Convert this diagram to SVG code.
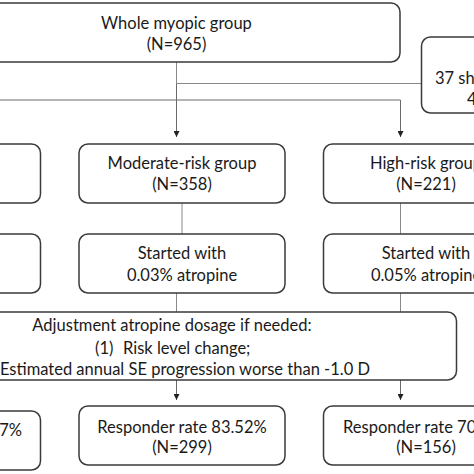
<svg xmlns="http://www.w3.org/2000/svg" width="474" height="474" viewBox="0 0 474 474">
<defs>
<marker id="arr" viewBox="0 0 10 10" refX="10" refY="5" markerWidth="6" markerHeight="6" orient="auto" markerUnits="userSpaceOnUse">
<path d="M0,0 L10,5 L0,10 z" fill="#222"/>
</marker>
<style>
.box{fill:#fff;stroke:#3a3a3a;stroke-width:1.5}
.t{font-family:Lato,"Liberation Sans",sans-serif;font-size:16.5px;fill:#1a1a1a;text-anchor:middle}
.c{fill:none;stroke:#8a8a8a;stroke-width:1}
.ca{fill:none;stroke:#6a6a6a;stroke-width:1;marker-end:url(#arr)}
</style>
</defs>
<rect width="474" height="474" fill="#fff"/>
<g id="connectors">
<path class="c" d="M176.5,62 V83.5 H422"/>
<path class="ca" d="M176.5,83.5 V137"/>
<path class="ca" d="M0,100 H400.5 V137"/>
<path class="c" d="M182,203 V234"/>
<path class="c" d="M400.5,203 V234"/>
<path class="c" d="M176.5,293 V312"/>
<path class="c" d="M400.5,293 V312"/>
<path class="ca" d="M176.5,380 V400"/>
<path class="ca" d="M400.5,380 V400"/>
</g>
<g id="whole">
<rect class="box" x="-47" y="3" width="447" height="59" rx="9"/>
<text class="t" x="176.5" y="29">Whole myopic group</text>
<text class="t" x="176.5" y="50">(N=965)</text>
</g>
<g id="shifted">
<rect class="box" x="421.5" y="37" width="120" height="76" rx="9"/>
<text class="t" x="435" y="84" style="text-anchor:start">37 sh</text>
<text class="t" x="467" y="105" style="text-anchor:start">4</text>
</g>
<g id="low">
<rect class="box" x="-120" y="144" width="160.5" height="59" rx="9"/>
</g>
<g id="moderate">
<rect class="box" x="79" y="144" width="206" height="59" rx="9"/>
<text class="t" x="182" y="169">Moderate-risk group</text>
<text class="t" x="182" y="190">(N=358)</text>
</g>
<g id="high">
<rect class="box" x="323.5" y="144" width="206" height="59" rx="9"/>
<text class="t" x="426" y="169">High-risk group</text>
<text class="t" x="426" y="190">(N=221)</text>
</g>
<g id="low-start">
<rect class="box" x="-120" y="234" width="160.5" height="59" rx="9"/>
</g>
<g id="moderate-start">
<rect class="box" x="79" y="234" width="206" height="59" rx="9"/>
<text class="t" x="182" y="259">Started with</text>
<text class="t" x="182" y="281">0.03% atropine</text>
</g>
<g id="high-start">
<rect class="box" x="323.5" y="234" width="206" height="59" rx="9"/>
<text class="t" x="426" y="259">Started with</text>
<text class="t" x="426" y="281">0.05% atropine</text>
</g>
<g id="adjust">
<rect class="box" x="-60" y="312" width="516.5" height="68" rx="9"/>
<text class="t" x="172" y="331">Adjustment atropine dosage if needed:</text>
<text class="t" x="95" y="354" style="text-anchor:start">(1)<tspan x="123">Risk level change;</tspan></text>
<text class="t" x="370" y="375" style="text-anchor:end">Estimated annual SE progression worse than -1.0 D</text>
</g>
<g id="low-resp">
<rect class="box" x="-120" y="411" width="160.5" height="59" rx="9"/>
<text class="t" x="22" y="436" style="text-anchor:end">7%</text>
</g>
<g id="moderate-resp">
<rect class="box" x="79" y="406" width="206" height="59" rx="9"/>
<text class="t" x="182" y="433">Responder rate 83.52%</text>
<text class="t" x="182" y="453">(N=299)</text>
</g>
<g id="high-resp">
<rect class="box" x="323.5" y="406" width="206" height="59" rx="9"/>
<text class="t" x="343" y="433" style="text-anchor:start">Responder rate 70.59%</text>
<text class="t" x="426" y="453">(N=156)</text>
</g>
</svg>
